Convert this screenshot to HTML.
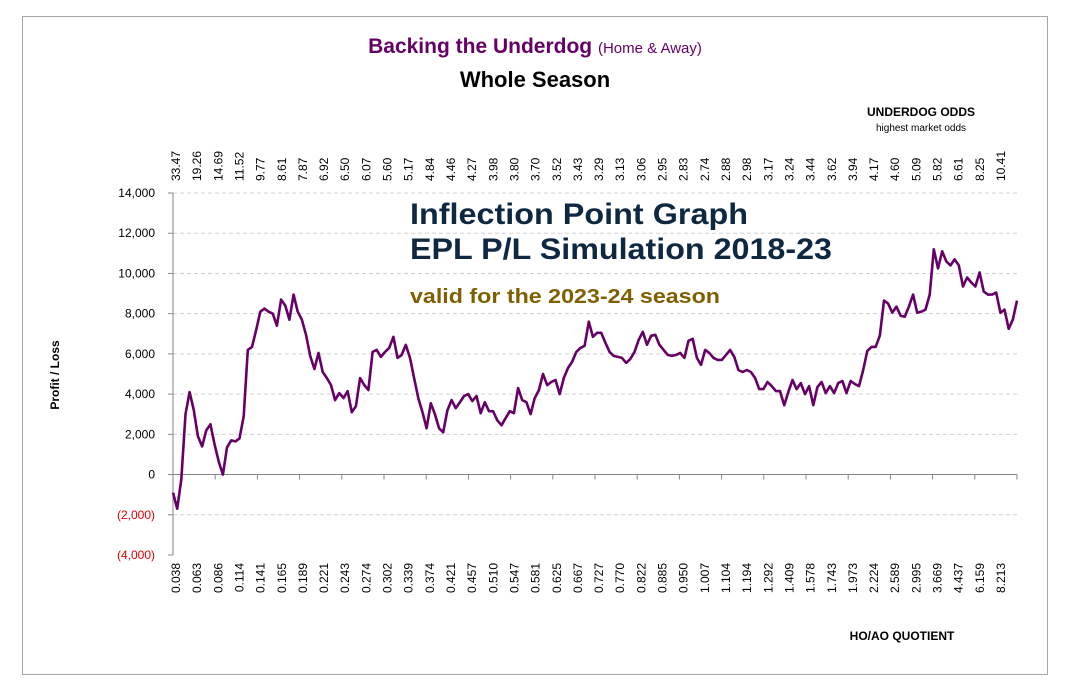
<!DOCTYPE html>
<html><head><meta charset="utf-8"><style>
body{margin:0;background:#fff;}
svg{display:block;font-family:"Liberation Sans",sans-serif;}
</style></head><body>
<svg id="chart" width="1070" height="693" viewBox="0 0 1070 693">
<rect x="22.5" y="16.5" width="1025" height="658" fill="#fff" stroke="#a6a6a6"/>
<text x="535" y="53" text-anchor="middle" fill="#660066" font-weight="bold" font-size="21">Backing the Underdog <tspan font-size="15" font-weight="normal">(Home &amp; Away)</tspan></text>
<text x="535" y="87" text-anchor="middle" fill="#000" font-weight="bold" font-size="22">Whole Season</text>
<text x="921" y="116" text-anchor="middle" font-weight="bold" font-size="12">UNDERDOG ODDS</text>
<text x="921" y="131" text-anchor="middle" font-size="10">highest market odds</text>
<text transform="translate(59,375) rotate(-90)" text-anchor="middle" font-weight="bold" font-size="12">Profit / Loss</text>
<text x="902" y="640" text-anchor="middle" font-weight="bold" font-size="12">HO/AO QUOTIENT</text>
<text x="410" y="224" fill="#0e2841" font-weight="bold" font-size="30" textLength="338" lengthAdjust="spacingAndGlyphs">Inflection Point Graph</text>
<text x="410" y="259" fill="#0e2841" font-weight="bold" font-size="30" textLength="422" lengthAdjust="spacingAndGlyphs">EPL P/L Simulation 2018-23</text>
<text x="410" y="303" fill="#7f6000" font-weight="bold" font-size="20" textLength="310" lengthAdjust="spacingAndGlyphs">valid for the 2023-24 season</text>
<g id="grid"></g><g id="axes"></g><g id="series"></g>
</svg>
<script>
const yTicks=[-4000,-2000,0,2000,4000,6000,8000,10000,12000,14000];
const bottomLabels=["0.038","0.063","0.086","0.114","0.141","0.165","0.189","0.221","0.243","0.274","0.302","0.339","0.374","0.421","0.457","0.510","0.547","0.581","0.625","0.667","0.727","0.770","0.822","0.885","0.950","1.007","1.104","1.194","1.292","1.409","1.578","1.743","1.973","2.224","2.589","2.995","3.669","4.437","6.159","8.213"];
const topLabels=["33.47","19.26","14.69","11.52","9.77","8.61","7.87","6.92","6.50","6.07","5.60","5.17","4.84","4.46","4.27","3.98","3.80","3.70","3.52","3.43","3.29","3.13","3.06","2.95","2.83","2.74","2.88","2.98","3.17","3.24","3.44","3.62","3.94","4.17","4.60","5.09","5.82","6.61","8.25","10.41"];
const profit=[-900,-1700,-250,3000,4100,3200,1900,1400,2200,2500,1500,650,0,1350,1700,1650,1800,2900,6200,6350,7200,8100,8250,8100,8000,7400,8700,8400,7700,8950,8100,7700,6950,5900,5250,6050,5100,4800,4450,3700,4050,3800,4150,3100,3400,4800,4450,4200,6100,6200,5850,6100,6300,6850,5800,5950,6450,5800,4800,3800,3100,2300,3550,3000,2300,2100,3200,3700,3300,3600,3900,4000,3650,3900,3050,3600,3150,3150,2700,2450,2800,3150,3050,4300,3700,3600,3000,3800,4200,5000,4450,4600,4700,4000,4800,5300,5600,6100,6300,6400,7600,6850,7050,7050,6550,6100,5900,5850,5800,5550,5750,6100,6700,7100,6450,6900,6950,6450,6200,5950,5900,5950,6050,5800,6650,6750,5800,5450,6200,6050,5800,5700,5700,5950,6200,5850,5200,5100,5200,5100,4800,4250,4250,4600,4400,4150,4150,3450,4100,4700,4250,4550,4000,4400,3450,4350,4600,4050,4400,4050,4550,4650,4050,4650,4500,4400,5200,6150,6350,6350,6900,8650,8500,8050,8350,7900,7850,8350,8950,8050,8100,8200,8950,11200,10250,11100,10600,10400,10700,10400,9350,9800,9550,9350,10050,9100,8950,8950,9050,8050,8200,7250,7700,8650];

const NS="http://www.w3.org/2000/svg";
const X0=173,X1=1017,YT=193,YB=555,VMIN=-4000,VMAX=14000;
function yScale(v){return YB-(v-VMIN)/(VMAX-VMIN)*(YB-YT);}
function xPoint(i){return X0+i*(X1-X0)/(profit.length-1);}
function xLabel(i){return 176+i*(1001-176)/(bottomLabels.length-1);}
function mk(tag,attrs,parent){const e=document.createElementNS(NS,tag);for(const k in attrs)e.setAttribute(k,attrs[k]);parent.appendChild(e);return e;}
const grid=document.getElementById('grid'),axes=document.getElementById('axes'),series=document.getElementById('series');
yTicks.forEach(v=>{
  const y=yScale(v);
  if(v!==0&&v!==VMIN){const g=mk('line',{x1:X0,x2:X1,y1:y,y2:y,stroke:'#d0d0d0','stroke-dasharray':'4,3'},grid);
  
  }
  mk('line',{x1:X0-5,x2:X0,y1:y,y2:y,stroke:'#868686'},axes);
  const t=mk('text',{x:155,y:y+4,'text-anchor':'end','font-size':12,fill:v<0?'#e00000':'#000'},axes);
  t.textContent=v<0?'('+Math.abs(v).toLocaleString('en-US')+')':v.toLocaleString('en-US');
  
  
});
const ya=mk('line',{x1:X0,x2:X0,y1:YT,y2:YB,stroke:'#868686'},axes);


const y0=yScale(0);
const xa=mk('line',{x1:X0,x2:X1,y1:y0,y2:y0,stroke:'#868686'},axes);


for(let k=0;k<=20;k++){const x=X0+k*(X1-X0)/20;mk('line',{x1:x,x2:x,y1:y0,y2:y0+5,stroke:'#868686'},axes);}
bottomLabels.forEach((s,i)=>{
  const x=xLabel(i);
  const t=mk('text',{transform:`translate(${x+4},563) rotate(-90)`,'text-anchor':'end','font-size':12},axes);
  t.textContent=s;
  
  
});
topLabels.forEach((s,i)=>{
  const x=xLabel(i);
  const t=mk('text',{transform:`translate(${x+4},181) rotate(-90)`,'text-anchor':'start','font-size':12},axes);
  t.textContent=s;
  
  
});
const pts=profit.map((v,i)=>xPoint(i).toFixed(1)+','+yScale(v).toFixed(1)).join(' ');
const line=mk('polyline',{points:pts,fill:'none',stroke:'#660066','stroke-width':2.6,'stroke-linejoin':'round'},series);


</script>
</body></html>
